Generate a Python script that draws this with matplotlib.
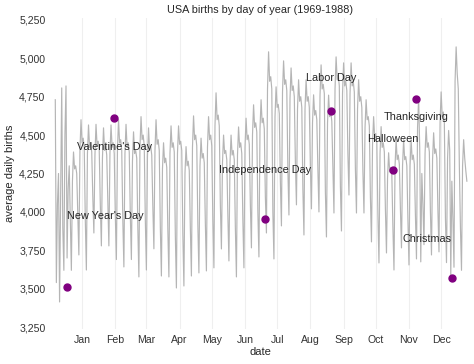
import numpy as np
import pandas as pd
import matplotlib
matplotlib.use("Agg")
import matplotlib.pyplot as plt
import matplotlib.dates as mdates

plt.rcParams['font.family'] = ['Liberation Sans', 'DejaVu Sans']

# daily average births, 2011-12-21 .. 2013-01-08 (rows = weeks Mon..Sun)
births = [
    4730, 3540,
    4050, 4250, 3414, 4100, 4807, 3900, 3620,
    4500, 4820, 3700, 4150, 4300, 3950, 3620,
    4200, 4390, 4280, 4300, 4250, 3980, 3720,
    4400, 4600, 4450, 4480, 4420, 3950, 3622,
    4380, 4566, 4420, 4450, 4390, 4100, 3863,
    4370, 4570, 4430, 4460, 4400, 4050, 3779,
    4350, 4547, 4400, 4430, 4370, 4060, 3779,
    4380, 4566, 4420, 4450, 4380, 3980, 3690,
    4400, 4600, 4450, 4470, 4400, 3950, 3642,
    4380, 4570, 4420, 4450, 4390, 3980, 3690,
    4330, 4521, 4380, 4400, 4350, 3900, 3577,
    4420, 4620, 4470, 4500, 4430, 3950, 3622,
    4360, 4547, 4400, 4430, 4370, 4040, 3760,
    4400, 4600, 4440, 4470, 4400, 3900, 3583,
    4280, 4450, 4320, 4350, 4290, 3890, 3577,
    4380, 4560, 4420, 4450, 4390, 3850, 3505,
    4380, 4560, 4440, 4460, 4400, 3860, 3518,
    4250, 4425, 4300, 4330, 4270, 3900, 3583,
    4420, 4625, 4470, 4500, 4430, 3920, 3603,
    4300, 4480, 4350, 4380, 4320, 3930, 3616,
    4420, 4620, 4470, 4500, 4430, 3950, 3636,
    4560, 4775, 4600, 4630, 4560, 4050, 3759,
    4320, 4500, 4380, 4400, 4340, 3980, 3681,
    4320, 4500, 4370, 4400, 4340, 3900, 3577,
    4370, 4553, 4420, 4450, 4380, 3950, 3636,
    4420, 4610, 4470, 4500, 4440, 4050, 3766,
    4500, 4697, 4550, 4580, 4520, 4000, 3707,
    4540, 4730, 4580, 4610, 4540, 4100, 3863,
    4800, 5042, 4850, 4880, 4800, 4000, 3694,
    4620, 4814, 4680, 4700, 4640, 4200, 3909,
    4780, 4983, 4830, 4860, 4790, 4280, 3980,
    4740, 4937, 4790, 4820, 4750, 4330, 4046,
    4670, 4860, 4720, 4750, 4680, 4150, 3850,
    4670, 4860, 4720, 4750, 4680, 4300, 4020,
    4580, 4762, 4630, 4660, 4600, 4280, 4000,
    4760, 4957, 4800, 4830, 4770, 4130, 3837,
    4580, 4760, 4620, 4650, 4590, 4280, 3993,
    4800, 5009, 4860, 4890, 4820, 4170, 3876,
    4770, 4970, 4820, 4850, 4790, 4380, 4110,
    4770, 4970, 4820, 4850, 4780, 4280, 3993,
    4670, 4860, 4720, 4750, 4680, 4270, 3993,
    4550, 4730, 4600, 4620, 4560, 4100, 3805,
    4440, 4620, 4480, 4510, 4450, 3980, 3668,
    4380, 4555, 4420, 4450, 4390, 4020, 3733,
    4220, 4385, 4260, 4290, 4240, 3900, 3622,
    4300, 4470, 4340, 4370, 4310, 4020, 3766,
    4300, 4470, 4340, 4360, 4300, 3950, 3655,
    4300, 4470, 4340, 4370, 4310, 3980, 3694,
    4550, 4740, 4420, 3675, 4250, 4050, 3787,
    4380, 4555, 4420, 4450, 4390, 4000, 3720,
    4340, 4515, 4380, 4410, 4350, 4010, 3740,
    4580, 4781, 4620, 4650, 4580, 3960, 3670,
    4350, 4530, 4400, 3590, 4200, 3950, 3640,
    4850, 5074, 4900, 4800, 4300, 3900, 3620,
    4300, 4470, 4350, 4270, 4200,
]
dates = pd.date_range('2011-12-21', periods=len(births), freq='D')

holidays = ["New Year's Day", "Valentine's Day", "Independence Day", "Labor Day",
            "Halloween", "Thanksgiving", "Christmas"]
holiday_dates = ['2012-01-01', '2012-02-14', '2012-07-04', '2012-09-03',
                 '2012-10-31', '2012-11-22', '2012-12-25']
holiday_births = [3510, 4612, 3957, 4657, 4272, 4734, 3568]
label_births = [3974, 4423, 4273, 4872, 4475, 4619, 3824]
label_align = ['left', 'center', 'center', 'center', 'center', 'center', 'right']

fig = plt.figure(figsize=(4.74, 3.64), dpi=100)
ax = fig.add_axes([51 / 474, 1 - 329 / 364, 418 / 474, 311 / 364])

ax.plot(dates, births, color='#b5b5b5', lw=0.85)
hd = pd.to_datetime(holiday_dates)
ax.plot(hd, holiday_births, 'o', color='purple', ms=5.0)
for name, d, y, ha in zip(holidays, hd, label_births, label_align):
    ax.text(d, y, name, ha=ha, va='center', fontsize=7.8, color='#262626')

ax.set_xlim(pd.Timestamp('2011-12-17'), pd.Timestamp('2013-01-10'))
ax.set_ylim(3238, 5262)
ax.set_yticks(np.arange(3250, 5251, 250))
ax.yaxis.set_major_formatter(plt.FuncFormatter(lambda v, p: '{:,.0f}'.format(v)))

ax.xaxis.set_major_locator(mdates.MonthLocator(bymonthday=15))
ax.xaxis.set_major_formatter(mdates.DateFormatter('%b'))
ax.grid(axis='x', color='#efefef', lw=0.8)
ax.grid(axis='y', visible=False)
for s in ax.spines.values():
    s.set_visible(False)
ax.tick_params(length=0, labelsize=7.6, labelcolor='#333333', pad=4)

ax.set_title('USA births by day of year (1969-1988)', fontsize=7.8, color='#262626', pad=3.5)
ax.set_xlabel('date', fontsize=8, color='#262626', labelpad=2)
ax.set_ylabel('average daily births', fontsize=8, color='#262626', labelpad=3)

fig.savefig('out.png', dpi=100)
